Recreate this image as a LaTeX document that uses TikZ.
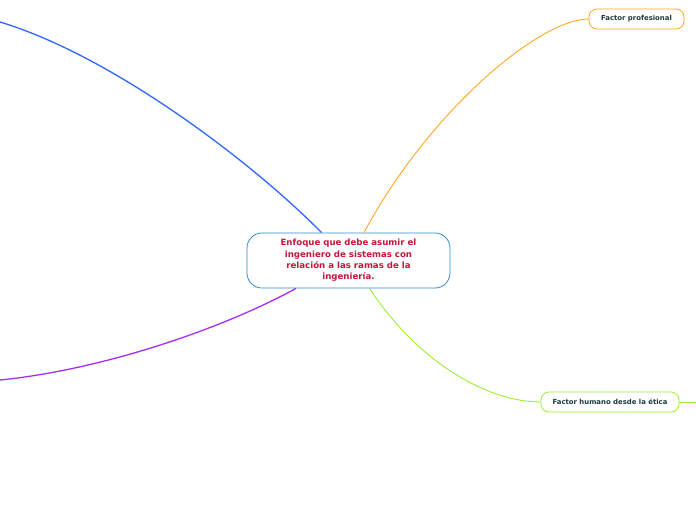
\documentclass[tikz,border=0pt]{standalone}
\usepackage{fontspec}
\setmainfont{DejaVu Sans}
\usepackage{xcolor}
\definecolor{rootline}{HTML}{2F8AD0}
\definecolor{roottext}{HTML}{C8143C}
\definecolor{leaftext}{HTML}{1E3C3C}
\definecolor{bluebranch}{HTML}{2F66FF}
\definecolor{purplebranch}{HTML}{A82CF5}
\definecolor{orangebranch}{HTML}{FFA623}
\definecolor{greenbranch}{HTML}{9BEE33}

\begin{document}
\begin{tikzpicture}[x=1pt, y=-1pt,
    rootbox/.style={draw=rootline, line width=0.8pt, fill=white, rounded corners=15pt,
        minimum width=203pt, minimum height=55pt, align=center, text=roottext,
        font=\fontsize{8.6}{11.3}\selectfont\bfseries},
    leafbox/.style={draw=#1, line width=0.8pt, fill=white, rounded corners=8pt,
        minimum height=20pt, text=leaftext, font=\fontsize{6.9}{8}\selectfont\bfseries}]
    \useasboundingbox (0,0) rectangle (696,520);

    % Central topic
    \node[rootbox] (root) at (348.5,260.5)
        {Enfoque que debe asumir el\\ingeniero de sistemas con\\relación a las ramas de la\\ingeniería.};

    % Subtopics
    \node[leafbox=orangebranch, minimum width=95pt] (profesional) at (636.5,19) {Factor profesional};
    \node[leafbox=greenbranch, minimum width=138pt] (humano) at (610,402) {Factor humano desde la ética};

    % Free ends
    \coordinate (blueend) at (0,22);
    \coordinate (purpleend) at (0,380);
    \coordinate (stub) at (696,402);

    % Branches
    \draw[bluebranch, line width=1.3pt] (root.134) .. controls (250,160) and (110,55) .. (blueend);
    \draw[purplebranch, line width=1.3pt] (root.208) .. controls (220,330) and (100,370) .. (purpleend);
    \draw[orangebranch, line width=0.9pt] (root.61) .. controls (430,110) and (540,19) .. (profesional.west);
    \draw[greenbranch, line width=0.9pt] (root.-53) .. controls (420,365) and (490,402) .. (humano.west);
    \draw[greenbranch, line width=0.9pt] (humano.east) -- (stub);
\end{tikzpicture}
\end{document}
